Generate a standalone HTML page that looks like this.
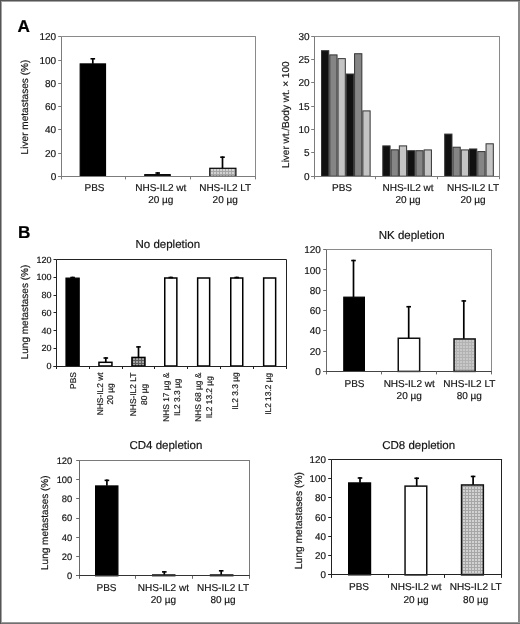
<!DOCTYPE html>
<html><head><meta charset="utf-8"><title>Figure</title>
<style>html,body{margin:0;padding:0;background:#fff;}svg{display:block;}</style>
</head><body>
<svg width="520" height="624" viewBox="0 0 520 624" font-family='"Liberation Sans", Arial, Helvetica, sans-serif' text-rendering="geometricPrecision">
<defs><pattern id="gridL" width="3" height="3" patternUnits="userSpaceOnUse"><rect width="3" height="3" fill="#d2d2d2"/><rect width="3" height="1" fill="#a6a6a6"/><rect width="1" height="3" fill="#a6a6a6"/></pattern><pattern id="gridD" width="3" height="3" patternUnits="userSpaceOnUse"><rect width="3" height="3" fill="#a6a6a6"/><rect width="3" height="1" fill="#5c5c5c"/><rect width="1" height="3" fill="#5c5c5c"/></pattern><pattern id="dots" width="3" height="3" patternUnits="userSpaceOnUse"><rect width="3" height="3" fill="#c8c8c8"/><rect width="3" height="1" fill="#b2b2b2"/><rect width="1" height="3" fill="#b2b2b2"/></pattern><pattern id="gridM" width="3" height="3" patternUnits="userSpaceOnUse"><rect width="3" height="3" fill="#d2d2d2"/><rect width="3" height="1" fill="#a6a6a6"/><rect width="1" height="3" fill="#a6a6a6"/></pattern></defs>
<rect x="0" y="0" width="520" height="624" fill="#fff"/>
<text x="17.6" y="32" font-size="17.2" fill="#000" font-weight="bold" stroke="#000" stroke-width="0.2">A</text>
<text x="17.9" y="237.7" font-size="17.2" fill="#000" font-weight="bold" stroke="#000" stroke-width="0.2">B</text>
<line x1="61.2" y1="36.5" x2="255.9" y2="36.5" stroke="#8a8a8a" stroke-width="1"/>
<line x1="255.5" y1="36.8" x2="255.5" y2="176.4" stroke="#8a8a8a" stroke-width="1"/>
<rect x="80.2" y="63.92" width="25.3" height="112.48" fill="#000" stroke="#000" stroke-width="1.2"/>
<line x1="92.8" y1="57.97" x2="92.8" y2="63.82" stroke="#000" stroke-width="1.7"/>
<line x1="90.5" y1="58.77" x2="95.1" y2="58.77" stroke="#000" stroke-width="1.6"/>
<rect x="144.8" y="174.67" width="25.4" height="1.73" fill="#222" stroke="#000" stroke-width="1.2"/>
<line x1="157.7" y1="172.21" x2="157.7" y2="174.57" stroke="#000" stroke-width="1.7"/>
<line x1="155.4" y1="173.01" x2="160" y2="173.01" stroke="#000" stroke-width="1.6"/>
<rect x="209.8" y="168.28" width="26.1" height="8.12" fill="url(#gridL)" stroke="#000" stroke-width="1.2"/>
<line x1="222.5" y1="156.39" x2="222.5" y2="168.18" stroke="#000" stroke-width="1.7"/>
<line x1="220.2" y1="157.19" x2="224.8" y2="157.19" stroke="#000" stroke-width="1.6"/>
<line x1="61.5" y1="36.8" x2="61.5" y2="179.4" stroke="#7c7c7c" stroke-width="1"/>
<line x1="58.2" y1="176.5" x2="255.9" y2="176.5" stroke="#7c7c7c" stroke-width="1"/>
<line x1="58.2" y1="176.5" x2="61.2" y2="176.5" stroke="#7c7c7c" stroke-width="1"/>
<text x="56.2" y="180" font-size="10" fill="#141414" text-anchor="end" stroke="#141414" stroke-width="0.18">0</text>
<line x1="58.2" y1="153.5" x2="61.2" y2="153.5" stroke="#7c7c7c" stroke-width="1"/>
<text x="56.2" y="156.73" font-size="10" fill="#141414" text-anchor="end" stroke="#141414" stroke-width="0.18">20</text>
<line x1="58.2" y1="129.5" x2="61.2" y2="129.5" stroke="#7c7c7c" stroke-width="1"/>
<text x="56.2" y="133.47" font-size="10" fill="#141414" text-anchor="end" stroke="#141414" stroke-width="0.18">40</text>
<line x1="58.2" y1="106.5" x2="61.2" y2="106.5" stroke="#7c7c7c" stroke-width="1"/>
<text x="56.2" y="110.2" font-size="10" fill="#141414" text-anchor="end" stroke="#141414" stroke-width="0.18">60</text>
<line x1="58.2" y1="83.5" x2="61.2" y2="83.5" stroke="#7c7c7c" stroke-width="1"/>
<text x="56.2" y="86.93" font-size="10" fill="#141414" text-anchor="end" stroke="#141414" stroke-width="0.18">80</text>
<line x1="58.2" y1="60.5" x2="61.2" y2="60.5" stroke="#7c7c7c" stroke-width="1"/>
<text x="56.2" y="63.67" font-size="10" fill="#141414" text-anchor="end" stroke="#141414" stroke-width="0.18">100</text>
<line x1="58.2" y1="36.5" x2="61.2" y2="36.5" stroke="#7c7c7c" stroke-width="1"/>
<text x="56.2" y="40.4" font-size="10" fill="#141414" text-anchor="end" stroke="#141414" stroke-width="0.18">120</text>
<line x1="125.5" y1="176.4" x2="125.5" y2="179.4" stroke="#7c7c7c" stroke-width="1"/>
<line x1="190.5" y1="176.4" x2="190.5" y2="179.4" stroke="#7c7c7c" stroke-width="1"/>
<line x1="255.5" y1="176.4" x2="255.5" y2="179.4" stroke="#7c7c7c" stroke-width="1"/>
<text x="94.5" y="190.6" font-size="10" fill="#141414" text-anchor="middle" stroke="#141414" stroke-width="0.18">PBS</text>
<text x="160.8" y="190.6" font-size="10" fill="#141414" text-anchor="middle" stroke="#141414" stroke-width="0.18">NHS-IL2 wt</text>
<text x="160.8" y="203" font-size="10" fill="#141414" text-anchor="middle" stroke="#141414" stroke-width="0.18">20 µg</text>
<text x="225.2" y="190.6" font-size="10" fill="#141414" text-anchor="middle" stroke="#141414" stroke-width="0.18">NHS-IL2 LT</text>
<text x="225.2" y="203" font-size="10" fill="#141414" text-anchor="middle" stroke="#141414" stroke-width="0.18">20 µg</text>
<text transform="translate(27.6,107) rotate(-90)" font-size="10.1" fill="#141414" text-anchor="middle" stroke="#141414" stroke-width="0.18">Liver metastases (%)</text>
<line x1="314.2" y1="36.5" x2="499.7" y2="36.5" stroke="#8a8a8a" stroke-width="1"/>
<line x1="499.5" y1="36.2" x2="499.5" y2="176.2" stroke="#8a8a8a" stroke-width="1"/>
<rect x="321.5" y="50.7" width="7.27" height="125.5" fill="#111" stroke="#333" stroke-width="1"/>
<rect x="329.77" y="54.9" width="7.27" height="121.3" fill="#858585" stroke="#333" stroke-width="1"/>
<rect x="338.04" y="58.63" width="7.27" height="117.57" fill="#c4c4c4" stroke="#333" stroke-width="1"/>
<rect x="346.31" y="74.03" width="7.27" height="102.17" fill="#111" stroke="#333" stroke-width="1"/>
<rect x="354.58" y="53.73" width="7.27" height="122.47" fill="#858585" stroke="#333" stroke-width="1"/>
<rect x="362.85" y="110.9" width="7.27" height="65.3" fill="#c4c4c4" stroke="#333" stroke-width="1"/>
<rect x="382.8" y="145.9" width="7.27" height="30.3" fill="#111" stroke="#333" stroke-width="1"/>
<rect x="391.07" y="149.82" width="7.27" height="26.38" fill="#858585" stroke="#333" stroke-width="1"/>
<rect x="399.34" y="145.9" width="7.27" height="30.3" fill="#c4c4c4" stroke="#333" stroke-width="1"/>
<rect x="407.61" y="150.71" width="7.27" height="25.49" fill="#111" stroke="#333" stroke-width="1"/>
<rect x="415.88" y="150.71" width="7.27" height="25.49" fill="#858585" stroke="#333" stroke-width="1"/>
<rect x="424.15" y="149.91" width="7.27" height="26.29" fill="#c4c4c4" stroke="#333" stroke-width="1"/>
<rect x="444.7" y="134.09" width="7.27" height="42.11" fill="#111" stroke="#333" stroke-width="1"/>
<rect x="452.97" y="147.21" width="7.27" height="28.99" fill="#858585" stroke="#333" stroke-width="1"/>
<rect x="461.24" y="149.91" width="7.27" height="26.29" fill="#c4c4c4" stroke="#333" stroke-width="1"/>
<rect x="469.51" y="148.98" width="7.27" height="27.22" fill="#111" stroke="#333" stroke-width="1"/>
<rect x="477.78" y="151.59" width="7.27" height="24.61" fill="#858585" stroke="#333" stroke-width="1"/>
<rect x="486.05" y="143.8" width="7.27" height="32.4" fill="#c4c4c4" stroke="#333" stroke-width="1"/>
<line x1="314.5" y1="36.2" x2="314.5" y2="179.2" stroke="#7c7c7c" stroke-width="1"/>
<line x1="311.2" y1="176.5" x2="499.7" y2="176.5" stroke="#7c7c7c" stroke-width="1"/>
<line x1="311.2" y1="176.5" x2="314.2" y2="176.5" stroke="#7c7c7c" stroke-width="1"/>
<text x="309.6" y="179.8" font-size="10" fill="#141414" text-anchor="end" stroke="#141414" stroke-width="0.18">0</text>
<line x1="311.2" y1="152.5" x2="314.2" y2="152.5" stroke="#7c7c7c" stroke-width="1"/>
<text x="309.6" y="156.47" font-size="10" fill="#141414" text-anchor="end" stroke="#141414" stroke-width="0.18">5</text>
<line x1="311.2" y1="129.5" x2="314.2" y2="129.5" stroke="#7c7c7c" stroke-width="1"/>
<text x="309.6" y="133.13" font-size="10" fill="#141414" text-anchor="end" stroke="#141414" stroke-width="0.18">10</text>
<line x1="311.2" y1="106.5" x2="314.2" y2="106.5" stroke="#7c7c7c" stroke-width="1"/>
<text x="309.6" y="109.8" font-size="10" fill="#141414" text-anchor="end" stroke="#141414" stroke-width="0.18">15</text>
<line x1="311.2" y1="82.5" x2="314.2" y2="82.5" stroke="#7c7c7c" stroke-width="1"/>
<text x="309.6" y="86.47" font-size="10" fill="#141414" text-anchor="end" stroke="#141414" stroke-width="0.18">20</text>
<line x1="311.2" y1="59.5" x2="314.2" y2="59.5" stroke="#7c7c7c" stroke-width="1"/>
<text x="309.6" y="63.13" font-size="10" fill="#141414" text-anchor="end" stroke="#141414" stroke-width="0.18">25</text>
<line x1="311.2" y1="36.5" x2="314.2" y2="36.5" stroke="#7c7c7c" stroke-width="1"/>
<text x="309.6" y="39.8" font-size="10" fill="#141414" text-anchor="end" stroke="#141414" stroke-width="0.18">30</text>
<line x1="375.5" y1="176.2" x2="375.5" y2="179.2" stroke="#7c7c7c" stroke-width="1"/>
<line x1="437.5" y1="176.2" x2="437.5" y2="179.2" stroke="#7c7c7c" stroke-width="1"/>
<line x1="499.5" y1="176.2" x2="499.5" y2="179.2" stroke="#7c7c7c" stroke-width="1"/>
<text transform="translate(289.4,114.7) rotate(-90)" font-size="10" fill="#141414" text-anchor="middle" stroke="#141414" stroke-width="0.18">Liver wt./Body wt. × 100</text>
<text x="342" y="190.6" font-size="10" fill="#141414" text-anchor="middle" stroke="#141414" stroke-width="0.18">PBS</text>
<text x="408" y="190.6" font-size="10" fill="#141414" text-anchor="middle" stroke="#141414" stroke-width="0.18">NHS-IL2 wt</text>
<text x="408" y="203" font-size="10" fill="#141414" text-anchor="middle" stroke="#141414" stroke-width="0.18">20 µg</text>
<text x="473" y="190.6" font-size="10" fill="#141414" text-anchor="middle" stroke="#141414" stroke-width="0.18">NHS-IL2 LT</text>
<text x="473" y="203" font-size="10" fill="#141414" text-anchor="middle" stroke="#141414" stroke-width="0.18">20 µg</text>
<line x1="56.5" y1="259.5" x2="286.5" y2="259.5" stroke="#222" stroke-width="1"/>
<line x1="286.5" y1="259.5" x2="286.5" y2="366" stroke="#222" stroke-width="1"/>
<rect x="66" y="278.12" width="13.2" height="87.88" fill="#000" stroke="#000" stroke-width="1.2"/>
<line x1="72.6" y1="276.72" x2="72.6" y2="278.02" stroke="#000" stroke-width="1.7"/>
<line x1="70.3" y1="277.52" x2="74.9" y2="277.52" stroke="#000" stroke-width="1.6"/>
<rect x="98.95" y="362.31" width="13" height="3.69" fill="#fff" stroke="#000" stroke-width="1.5"/>
<line x1="105.8" y1="357.21" x2="105.8" y2="362.06" stroke="#000" stroke-width="1.7"/>
<line x1="103.5" y1="358.01" x2="108.1" y2="358.01" stroke="#000" stroke-width="1.6"/>
<rect x="131.95" y="357.43" width="13" height="8.57" fill="url(#gridD)" stroke="#000" stroke-width="1.5"/>
<line x1="138.5" y1="346.12" x2="138.5" y2="357.18" stroke="#000" stroke-width="1.7"/>
<line x1="136.2" y1="346.92" x2="140.8" y2="346.92" stroke="#000" stroke-width="1.6"/>
<rect x="164.75" y="278" width="12.1" height="88" fill="#fff" stroke="#000" stroke-width="1.5"/>
<line x1="170.8" y1="276.72" x2="170.8" y2="277.75" stroke="#000" stroke-width="1.7"/>
<line x1="168.5" y1="277.52" x2="173.1" y2="277.52" stroke="#000" stroke-width="1.6"/>
<rect x="197.65" y="278" width="12" height="88" fill="#fff" stroke="#000" stroke-width="1.5"/>
<rect x="230.75" y="278" width="12" height="88" fill="#fff" stroke="#000" stroke-width="1.5"/>
<line x1="236.75" y1="276.72" x2="236.75" y2="277.75" stroke="#000" stroke-width="1.7"/>
<line x1="234.45" y1="277.52" x2="239.05" y2="277.52" stroke="#000" stroke-width="1.6"/>
<rect x="263.65" y="278" width="12" height="88" fill="#fff" stroke="#000" stroke-width="1.5"/>
<line x1="56.5" y1="259.5" x2="56.5" y2="369" stroke="#222" stroke-width="1"/>
<line x1="53.5" y1="366.5" x2="286.5" y2="366.5" stroke="#222" stroke-width="1"/>
<line x1="53.5" y1="366.5" x2="56.5" y2="366.5" stroke="#222" stroke-width="1"/>
<text x="51.6" y="369.24" font-size="9" fill="#141414" text-anchor="end" stroke="#141414" stroke-width="0.18">0</text>
<line x1="53.5" y1="348.5" x2="56.5" y2="348.5" stroke="#222" stroke-width="1"/>
<text x="51.6" y="351.49" font-size="9" fill="#141414" text-anchor="end" stroke="#141414" stroke-width="0.18">20</text>
<line x1="53.5" y1="330.5" x2="56.5" y2="330.5" stroke="#222" stroke-width="1"/>
<text x="51.6" y="333.74" font-size="9" fill="#141414" text-anchor="end" stroke="#141414" stroke-width="0.18">40</text>
<line x1="53.5" y1="312.5" x2="56.5" y2="312.5" stroke="#222" stroke-width="1"/>
<text x="51.6" y="315.99" font-size="9" fill="#141414" text-anchor="end" stroke="#141414" stroke-width="0.18">60</text>
<line x1="53.5" y1="295.5" x2="56.5" y2="295.5" stroke="#222" stroke-width="1"/>
<text x="51.6" y="298.24" font-size="9" fill="#141414" text-anchor="end" stroke="#141414" stroke-width="0.18">80</text>
<line x1="53.5" y1="277.5" x2="56.5" y2="277.5" stroke="#222" stroke-width="1"/>
<text x="51.6" y="280.49" font-size="9" fill="#141414" text-anchor="end" stroke="#141414" stroke-width="0.18">100</text>
<line x1="53.5" y1="259.5" x2="56.5" y2="259.5" stroke="#222" stroke-width="1"/>
<text x="51.6" y="262.74" font-size="9" fill="#141414" text-anchor="end" stroke="#141414" stroke-width="0.18">120</text>
<line x1="89.5" y1="366" x2="89.5" y2="369" stroke="#222" stroke-width="1"/>
<line x1="122.5" y1="366" x2="122.5" y2="369" stroke="#222" stroke-width="1"/>
<line x1="154.5" y1="366" x2="154.5" y2="369" stroke="#222" stroke-width="1"/>
<line x1="187.5" y1="366" x2="187.5" y2="369" stroke="#222" stroke-width="1"/>
<line x1="220.5" y1="366" x2="220.5" y2="369" stroke="#222" stroke-width="1"/>
<line x1="253.5" y1="366" x2="253.5" y2="369" stroke="#222" stroke-width="1"/>
<line x1="286.5" y1="366" x2="286.5" y2="369" stroke="#222" stroke-width="1"/>
<text x="167.8" y="248" font-size="11.5" fill="#141414" text-anchor="middle" stroke="#141414" stroke-width="0.18">No depletion</text>
<text transform="translate(27.6,312) rotate(-90)" font-size="10" fill="#141414" text-anchor="middle" stroke="#141414" stroke-width="0.18">Lung metastases (%)</text>
<text transform="translate(75.5,380.5) rotate(-90)" font-size="8.4" fill="#141414" text-anchor="middle" stroke="#141414" stroke-width="0.18">PBS</text>
<text transform="translate(103,393.9) rotate(-90)" font-size="8.4" fill="#141414" text-anchor="middle" stroke="#141414" stroke-width="0.18">NHS-IL2 wt</text>
<text transform="translate(113.4,393.9) rotate(-90)" font-size="8.4" fill="#141414" text-anchor="middle" stroke="#141414" stroke-width="0.18">20 µg</text>
<text transform="translate(136,394.4) rotate(-90)" font-size="8.4" fill="#141414" text-anchor="middle" stroke="#141414" stroke-width="0.18">NHS-IL2 LT</text>
<text transform="translate(146.6,394.4) rotate(-90)" font-size="8.4" fill="#141414" text-anchor="middle" stroke="#141414" stroke-width="0.18">80 µg</text>
<text transform="translate(168.6,397.3) rotate(-90)" font-size="8.4" fill="#141414" text-anchor="middle" stroke="#141414" stroke-width="0.18">NHS 17 µg &amp;</text>
<text transform="translate(179.9,397.3) rotate(-90)" font-size="8.4" fill="#141414" text-anchor="middle" stroke="#141414" stroke-width="0.18">IL2 3.3 µg</text>
<text transform="translate(200.6,397.2) rotate(-90)" font-size="8.4" fill="#141414" text-anchor="middle" stroke="#141414" stroke-width="0.18">NHS 68 µg &amp;</text>
<text transform="translate(211.5,397.2) rotate(-90)" font-size="8.4" fill="#141414" text-anchor="middle" stroke="#141414" stroke-width="0.18">IL2 13.2 µg</text>
<text transform="translate(237.6,391.1) rotate(-90)" font-size="8.4" fill="#141414" text-anchor="middle" stroke="#141414" stroke-width="0.18">IL2 3.3 µg</text>
<text transform="translate(270.6,393.8) rotate(-90)" font-size="8.4" fill="#141414" text-anchor="middle" stroke="#141414" stroke-width="0.18">IL2 13.2 µg</text>
<line x1="326.2" y1="249.5" x2="492" y2="249.5" stroke="#8a8a8a" stroke-width="1"/>
<line x1="491.5" y1="249.6" x2="491.5" y2="371.4" stroke="#8a8a8a" stroke-width="1"/>
<rect x="343.8" y="297.19" width="20.6" height="74.21" fill="#000" stroke="#000" stroke-width="1.2"/>
<line x1="353.5" y1="259.75" x2="353.5" y2="297.09" stroke="#000" stroke-width="1.7"/>
<line x1="351.2" y1="260.55" x2="355.8" y2="260.55" stroke="#000" stroke-width="1.6"/>
<rect x="398.25" y="338.25" width="21.4" height="33.15" fill="#fff" stroke="#111" stroke-width="1.5"/>
<line x1="408.7" y1="305.93" x2="408.7" y2="338" stroke="#000" stroke-width="1.7"/>
<line x1="406.4" y1="306.73" x2="411" y2="306.73" stroke="#000" stroke-width="1.6"/>
<rect x="454.05" y="338.96" width="21.1" height="32.44" fill="url(#dots)" stroke="#111" stroke-width="1.5"/>
<line x1="463.8" y1="300.15" x2="463.8" y2="338.71" stroke="#000" stroke-width="1.7"/>
<line x1="461.5" y1="300.95" x2="466.1" y2="300.95" stroke="#000" stroke-width="1.6"/>
<line x1="326.5" y1="249.6" x2="326.5" y2="374.4" stroke="#6a6a6a" stroke-width="1"/>
<line x1="323.2" y1="371.5" x2="492" y2="371.5" stroke="#444" stroke-width="1"/>
<line x1="323.2" y1="371.5" x2="326.2" y2="371.5" stroke="#6a6a6a" stroke-width="1"/>
<text x="320.9" y="375" font-size="10" fill="#141414" text-anchor="end" stroke="#141414" stroke-width="0.18">0</text>
<line x1="323.2" y1="351.5" x2="326.2" y2="351.5" stroke="#6a6a6a" stroke-width="1"/>
<text x="320.9" y="354.7" font-size="10" fill="#141414" text-anchor="end" stroke="#141414" stroke-width="0.18">20</text>
<line x1="323.2" y1="330.5" x2="326.2" y2="330.5" stroke="#6a6a6a" stroke-width="1"/>
<text x="320.9" y="334.4" font-size="10" fill="#141414" text-anchor="end" stroke="#141414" stroke-width="0.18">40</text>
<line x1="323.2" y1="310.5" x2="326.2" y2="310.5" stroke="#6a6a6a" stroke-width="1"/>
<text x="320.9" y="314.1" font-size="10" fill="#141414" text-anchor="end" stroke="#141414" stroke-width="0.18">60</text>
<line x1="323.2" y1="290.5" x2="326.2" y2="290.5" stroke="#6a6a6a" stroke-width="1"/>
<text x="320.9" y="293.8" font-size="10" fill="#141414" text-anchor="end" stroke="#141414" stroke-width="0.18">80</text>
<line x1="323.2" y1="269.5" x2="326.2" y2="269.5" stroke="#6a6a6a" stroke-width="1"/>
<text x="320.9" y="273.5" font-size="10" fill="#141414" text-anchor="end" stroke="#141414" stroke-width="0.18">100</text>
<line x1="323.2" y1="249.5" x2="326.2" y2="249.5" stroke="#6a6a6a" stroke-width="1"/>
<text x="320.9" y="253.2" font-size="10" fill="#141414" text-anchor="end" stroke="#141414" stroke-width="0.18">120</text>
<line x1="381.5" y1="371.4" x2="381.5" y2="374.4" stroke="#6a6a6a" stroke-width="1"/>
<line x1="436.5" y1="371.4" x2="436.5" y2="374.4" stroke="#6a6a6a" stroke-width="1"/>
<line x1="491.5" y1="371.4" x2="491.5" y2="374.4" stroke="#6a6a6a" stroke-width="1"/>
<text x="354.5" y="386.5" font-size="10" fill="#141414" text-anchor="middle" stroke="#141414" stroke-width="0.18">PBS</text>
<text x="409.2" y="386.5" font-size="10" fill="#141414" text-anchor="middle" stroke="#141414" stroke-width="0.18">NHS-IL2 wt</text>
<text x="409.2" y="398.6" font-size="10" fill="#141414" text-anchor="middle" stroke="#141414" stroke-width="0.18">20 µg</text>
<text x="469.3" y="386.5" font-size="10" fill="#141414" text-anchor="middle" stroke="#141414" stroke-width="0.18">NHS-IL2 LT</text>
<text x="469.3" y="398.6" font-size="10" fill="#141414" text-anchor="middle" stroke="#141414" stroke-width="0.18">80 µg</text>
<text x="411.7" y="239.3" font-size="11.5" fill="#141414" text-anchor="middle" stroke="#141414" stroke-width="0.18">NK depletion</text>
<line x1="79.2" y1="460.5" x2="249.9" y2="460.5" stroke="#7a7a7a" stroke-width="1"/>
<line x1="249.5" y1="460.2" x2="249.5" y2="575.8" stroke="#7a7a7a" stroke-width="1"/>
<rect x="95.6" y="485.94" width="22.3" height="89.86" fill="#000" stroke="#000" stroke-width="1.2"/>
<line x1="106.9" y1="479.56" x2="106.9" y2="485.84" stroke="#000" stroke-width="1.7"/>
<line x1="104.6" y1="480.36" x2="109.2" y2="480.36" stroke="#000" stroke-width="1.6"/>
<rect x="152.6" y="574.86" width="22.3" height="0.94" fill="#444" stroke="#111" stroke-width="1.2"/>
<line x1="164.3" y1="571.08" x2="164.3" y2="574.76" stroke="#000" stroke-width="1.7"/>
<line x1="162" y1="571.88" x2="166.6" y2="571.88" stroke="#000" stroke-width="1.6"/>
<rect x="210.4" y="574.86" width="22.5" height="0.94" fill="#444" stroke="#111" stroke-width="1.2"/>
<line x1="221.2" y1="570.02" x2="221.2" y2="574.76" stroke="#000" stroke-width="1.7"/>
<line x1="218.9" y1="570.82" x2="223.5" y2="570.82" stroke="#000" stroke-width="1.6"/>
<line x1="79.5" y1="460.2" x2="79.5" y2="578.8" stroke="#6a6a6a" stroke-width="1"/>
<line x1="76.2" y1="575.5" x2="249.9" y2="575.5" stroke="#333" stroke-width="1"/>
<line x1="76.2" y1="575.5" x2="79.2" y2="575.5" stroke="#6a6a6a" stroke-width="1"/>
<text x="72.3" y="579.18" font-size="9.4" fill="#141414" text-anchor="end" stroke="#141414" stroke-width="0.18">0</text>
<line x1="76.2" y1="556.5" x2="79.2" y2="556.5" stroke="#6a6a6a" stroke-width="1"/>
<text x="72.3" y="559.92" font-size="9.4" fill="#141414" text-anchor="end" stroke="#141414" stroke-width="0.18">20</text>
<line x1="76.2" y1="537.5" x2="79.2" y2="537.5" stroke="#6a6a6a" stroke-width="1"/>
<text x="72.3" y="540.65" font-size="9.4" fill="#141414" text-anchor="end" stroke="#141414" stroke-width="0.18">40</text>
<line x1="76.2" y1="518.5" x2="79.2" y2="518.5" stroke="#6a6a6a" stroke-width="1"/>
<text x="72.3" y="521.38" font-size="9.4" fill="#141414" text-anchor="end" stroke="#141414" stroke-width="0.18">60</text>
<line x1="76.2" y1="498.5" x2="79.2" y2="498.5" stroke="#6a6a6a" stroke-width="1"/>
<text x="72.3" y="502.12" font-size="9.4" fill="#141414" text-anchor="end" stroke="#141414" stroke-width="0.18">80</text>
<line x1="76.2" y1="479.5" x2="79.2" y2="479.5" stroke="#6a6a6a" stroke-width="1"/>
<text x="72.3" y="482.85" font-size="9.4" fill="#141414" text-anchor="end" stroke="#141414" stroke-width="0.18">100</text>
<line x1="76.2" y1="460.5" x2="79.2" y2="460.5" stroke="#6a6a6a" stroke-width="1"/>
<text x="72.3" y="463.58" font-size="9.4" fill="#141414" text-anchor="end" stroke="#141414" stroke-width="0.18">120</text>
<line x1="135.5" y1="575.8" x2="135.5" y2="578.8" stroke="#6a6a6a" stroke-width="1"/>
<line x1="192.5" y1="575.8" x2="192.5" y2="578.8" stroke="#6a6a6a" stroke-width="1"/>
<line x1="249.5" y1="575.8" x2="249.5" y2="578.8" stroke="#6a6a6a" stroke-width="1"/>
<text x="106.5" y="591" font-size="10" fill="#141414" text-anchor="middle" stroke="#141414" stroke-width="0.18">PBS</text>
<text x="163.4" y="591" font-size="10" fill="#141414" text-anchor="middle" stroke="#141414" stroke-width="0.18">NHS-IL2 wt</text>
<text x="163.4" y="603.2" font-size="10" fill="#141414" text-anchor="middle" stroke="#141414" stroke-width="0.18">20 µg</text>
<text x="223" y="591" font-size="10" fill="#141414" text-anchor="middle" stroke="#141414" stroke-width="0.18">NHS-IL2 LT</text>
<text x="223" y="603.2" font-size="10" fill="#141414" text-anchor="middle" stroke="#141414" stroke-width="0.18">80 µg</text>
<text x="165.9" y="448.6" font-size="11.5" fill="#141414" text-anchor="middle" stroke="#141414" stroke-width="0.18">CD4 depletion</text>
<text transform="translate(48.2,522.7) rotate(-90)" font-size="10" fill="#141414" text-anchor="middle" stroke="#141414" stroke-width="0.18">Lung metastases (%)</text>
<line x1="331.2" y1="459.5" x2="502.1" y2="459.5" stroke="#222" stroke-width="1"/>
<line x1="501.5" y1="459.5" x2="501.5" y2="574.9" stroke="#222" stroke-width="1"/>
<rect x="348.6" y="482.89" width="22" height="92.01" fill="#000" stroke="#000" stroke-width="1.2"/>
<line x1="360" y1="477.19" x2="360" y2="482.79" stroke="#000" stroke-width="1.7"/>
<line x1="357.7" y1="477.99" x2="362.3" y2="477.99" stroke="#000" stroke-width="1.6"/>
<rect x="405.05" y="486.12" width="21.7" height="88.78" fill="#fff" stroke="#111" stroke-width="1.5"/>
<line x1="416.7" y1="477.48" x2="416.7" y2="485.87" stroke="#000" stroke-width="1.7"/>
<line x1="414.4" y1="478.28" x2="419" y2="478.28" stroke="#000" stroke-width="1.6"/>
<rect x="461.55" y="484.96" width="21.8" height="89.94" fill="url(#gridM)" stroke="#111" stroke-width="1.5"/>
<line x1="473.1" y1="475.66" x2="473.1" y2="484.71" stroke="#000" stroke-width="1.7"/>
<line x1="470.8" y1="476.46" x2="475.4" y2="476.46" stroke="#000" stroke-width="1.6"/>
<line x1="331.5" y1="459.5" x2="331.5" y2="577.9" stroke="#222" stroke-width="1"/>
<line x1="328.2" y1="574.5" x2="502.1" y2="574.5" stroke="#222" stroke-width="1"/>
<line x1="328.2" y1="574.5" x2="331.2" y2="574.5" stroke="#222" stroke-width="1"/>
<text x="325.9" y="578.43" font-size="9.8" fill="#141414" text-anchor="end" stroke="#141414" stroke-width="0.18">0</text>
<line x1="328.2" y1="555.5" x2="331.2" y2="555.5" stroke="#222" stroke-width="1"/>
<text x="325.9" y="559.19" font-size="9.8" fill="#141414" text-anchor="end" stroke="#141414" stroke-width="0.18">20</text>
<line x1="328.2" y1="536.5" x2="331.2" y2="536.5" stroke="#222" stroke-width="1"/>
<text x="325.9" y="539.96" font-size="9.8" fill="#141414" text-anchor="end" stroke="#141414" stroke-width="0.18">40</text>
<line x1="328.2" y1="517.5" x2="331.2" y2="517.5" stroke="#222" stroke-width="1"/>
<text x="325.9" y="520.73" font-size="9.8" fill="#141414" text-anchor="end" stroke="#141414" stroke-width="0.18">60</text>
<line x1="328.2" y1="497.5" x2="331.2" y2="497.5" stroke="#222" stroke-width="1"/>
<text x="325.9" y="501.49" font-size="9.8" fill="#141414" text-anchor="end" stroke="#141414" stroke-width="0.18">80</text>
<line x1="328.2" y1="478.5" x2="331.2" y2="478.5" stroke="#222" stroke-width="1"/>
<text x="325.9" y="482.26" font-size="9.8" fill="#141414" text-anchor="end" stroke="#141414" stroke-width="0.18">100</text>
<line x1="328.2" y1="459.5" x2="331.2" y2="459.5" stroke="#222" stroke-width="1"/>
<text x="325.9" y="463.03" font-size="9.8" fill="#141414" text-anchor="end" stroke="#141414" stroke-width="0.18">120</text>
<line x1="388.5" y1="574.9" x2="388.5" y2="577.9" stroke="#222" stroke-width="1"/>
<line x1="444.5" y1="574.9" x2="444.5" y2="577.9" stroke="#222" stroke-width="1"/>
<line x1="501.5" y1="574.9" x2="501.5" y2="577.9" stroke="#222" stroke-width="1"/>
<text x="359" y="590.4" font-size="10" fill="#141414" text-anchor="middle" stroke="#141414" stroke-width="0.18">PBS</text>
<text x="416" y="590.4" font-size="10" fill="#141414" text-anchor="middle" stroke="#141414" stroke-width="0.18">NHS-IL2 wt</text>
<text x="416" y="602.8" font-size="10" fill="#141414" text-anchor="middle" stroke="#141414" stroke-width="0.18">20 µg</text>
<text x="475.7" y="590.4" font-size="10" fill="#141414" text-anchor="middle" stroke="#141414" stroke-width="0.18">NHS-IL2 LT</text>
<text x="475.7" y="602.8" font-size="10" fill="#141414" text-anchor="middle" stroke="#141414" stroke-width="0.18">80 µg</text>
<text x="418.7" y="448.6" font-size="11.5" fill="#141414" text-anchor="middle" stroke="#141414" stroke-width="0.18">CD8 depletion</text>
<text transform="translate(302.2,520.6) rotate(-90)" font-size="10.3" fill="#141414" text-anchor="middle" stroke="#141414" stroke-width="0.18">Lung metastases (%)</text>
<rect x="0" y="0" width="520" height="1" fill="#555"/>
<rect x="0" y="1" width="520" height="1" fill="#a4a4a4"/>
<rect x="0" y="0" width="1" height="624" fill="#555"/>
<rect x="1" y="1" width="1" height="622" fill="#a4a4a4"/>
<rect x="518" y="1" width="2" height="623" fill="#8a8a8a"/>
<rect x="1" y="622" width="519" height="1" fill="#9a9a9a"/>
<rect x="1" y="623" width="519" height="1" fill="#707070"/>
</svg>
</body></html>
